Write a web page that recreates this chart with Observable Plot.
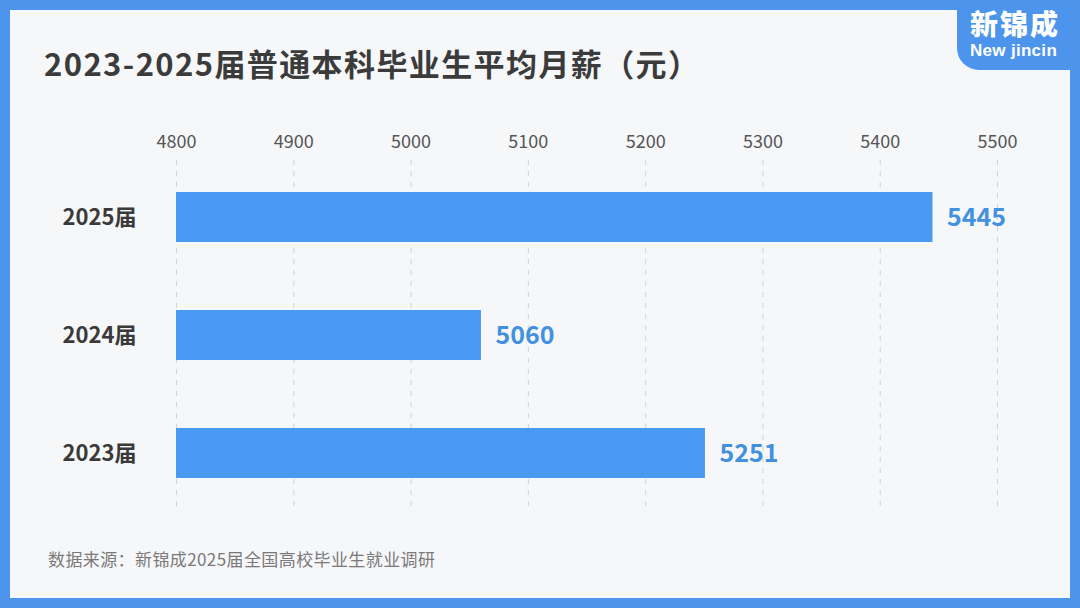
<!DOCTYPE html>
<html><head><meta charset="utf-8">
<script src="https://cdn.jsdelivr.net/npm/d3@7"></script>
<script src="https://cdn.jsdelivr.net/npm/@observablehq/plot@0.6"></script>
<style>
html,body{margin:0;padding:0;}
#page{position:relative;width:1080px;height:608px;background:#4d95ec;overflow:hidden;font-family:"Noto Sans CJK SC","Noto Sans",sans-serif;}
#panel{position:absolute;left:10px;top:10px;width:1060px;height:588px;background:#f6f7f9;}
#logo{position:absolute;left:957px;top:0;width:123px;height:70px;background:#4d95ec;border-bottom-left-radius:22px;color:#fff;}
#logo .cn{position:absolute;left:13px;top:8px;font-size:28px;font-weight:900;letter-spacing:2px;line-height:30px;white-space:nowrap;}
#logo .en{position:absolute;left:13px;top:42px;font-family:"Liberation Sans",Arial,sans-serif;font-size:17px;font-weight:bold;line-height:18px;white-space:nowrap;letter-spacing:0.3px;}
#title{position:absolute;left:44px;top:40px;font-size:31px;font-weight:bold;color:#3b3b3b;letter-spacing:1.4px;white-space:nowrap;}
#source{position:absolute;left:48px;top:546px;font-size:17px;color:#7a7a7a;letter-spacing:0.4px;white-space:nowrap;}
#chart{position:absolute;left:0;top:110px;}
</style></head>
<body>
<div id="page">
  <div id="panel"></div>
  <div id="logo"><div class="cn">新锦成</div><div class="en">New jincin</div></div>
  <div id="title">2023-2025届普通本科毕业生平均月薪（元）</div>
  <div id="chart"></div>
  <div id="source">数据来源：新锦成2025届全国高校毕业生就业调研</div>
</div>
<script>
const categories = ["2025届", "2024届", "2023届"];
const salaries = [5445, 5060, 5251];
const xTicks = [4800, 4900, 5000, 5100, 5200, 5300, 5400, 5500];

const data = categories.map((c, i) => ({cat: c, value: salaries[i]}));

const chart = Plot.plot({
  width: 1080,
  height: 410,
  marginLeft: 176,
  marginRight: 83,
  marginTop: 50,
  marginBottom: 10,
  style: {background: "transparent", fontFamily: "'Noto Sans CJK SC','Noto Sans',sans-serif", overflow: "visible"},
  x: {domain: [4800, 5500]},
  y: {domain: categories, range: [12.5, 436.5], padding: 0.578},
  marks: [
    Plot.gridX(xTicks, {stroke: "#cfd3d8", strokeOpacity: 1, strokeDasharray: "5,6", strokeWidth: 1}),
    Plot.barX(data, {x1: 4800, x2: "value", y: "cat", fill: "#4a9af4"}),
    Plot.text(data, {x: "value", y: "cat", text: d => String(d.value), dx: 14, textAnchor: "start", fill: "#4290e0", fontWeight: "bold", fontSize: 25}),
    Plot.axisX(xTicks, {anchor: "top", tickSize: 0, tickPadding: 13, fontSize: 18, color: "#555", tickFormat: d => String(d), label: null}),
    Plot.axisY({tickSize: 0, tickPadding: 40, fontSize: 22, fontWeight: "bold", color: "#3a3a3a", label: null})
  ]
});
document.getElementById("chart").appendChild(chart);
</script>
</body></html>
